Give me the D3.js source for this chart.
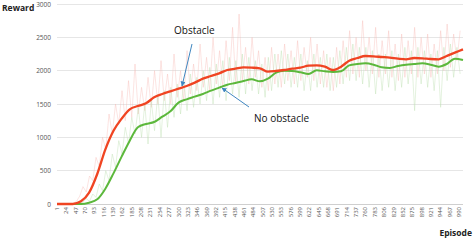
<!DOCTYPE html>
<html><head><meta charset="utf-8">
<script src="https://cdn.jsdelivr.net/npm/d3@7"></script>
<style>body{margin:0;background:#fff;} svg{display:block;}</style>
</head><body>
<svg id="c" width="474" height="242"></svg>
<script>
// Tick labels (episodes)
const xTickLabels = [1,24,47,70,93,116,139,162,185,208,231,254,277,300,323,346,369,392,415,438,461,484,507,530,553,576,599,622,645,668,691,714,737,760,783,806,829,852,875,898,921,944,967,990];
const yTickLabels = [0,500,1000,1500,2000,2500,3000];

// Smoothed curves
const smoothEpisodes = [1,20,40,60,80,100,120,140,160,180,200,220,240,260,280,300,320,340,360,380,400,420,440,460,480,500,520,540,560,580,600,620,640,660,680,700,720,740,760,780,800,820,840,860,880,900,920,940,960,980,1000];
const obstacleSmooth = [0,0,0,40,170,450,820,1100,1280,1420,1470,1510,1600,1650,1690,1730,1770,1820,1880,1920,1960,2010,2030,2050,2045,2035,1985,1995,2010,2030,2045,2075,2080,2060,2010,2060,2150,2190,2220,2215,2205,2195,2180,2170,2190,2185,2175,2170,2220,2270,2320];
const noObstacleSmooth = [0,0,0,0,20,70,230,460,710,950,1150,1200,1230,1310,1390,1520,1570,1610,1650,1700,1745,1790,1815,1845,1870,1840,1880,1970,2000,1995,1975,1950,2005,1990,1980,1990,2080,2100,2110,2090,2050,2040,2070,2090,2100,2110,2090,2060,2100,2180,2160];

// Raw (noisy) rewards, sampled every 8 episodes starting at episode 1
const obstacleRaw = [0,0,0,0,0,10,
40,120,260,180,420,350,700,560,1000,820,1350,1050,1500,1200,1700,1250,1850,1300,2100,1350,1750,1400,1900,1450,2000,1500,2150,1550,1950,1500,2250,1600,2000,1550,2300,1650,2100,1700,2400,1750,2200,1700,2500,1800,2300,1750,2450,1850,2650,1800,2850,1850,2350,1800,2500,1900,2300,1750,2200,1700,2350,1800,2250,1750,2400,1850,2300,1800,2450,1850,2350,1900,2500,1850,2400,1800,2300,1750,2200,1700,2350,1800,2450,1900,2600,1950,2500,1900,2750,2000,2500,1950,2650,1900,2450,1950,2600,1900,2400,1850,2550,1900,2450,1950,2650,1900,2500,1950,2550,1900,2400,1950,2600,2000,2700,2050,2550,2150,2600];
const noObstacleRaw = [0,0,0,0,0,0,0,10,
30,80,40,150,100,300,200,500,350,750,550,950,750,1150,900,1300,1050,1450,1000,1500,900,1550,1100,1650,1000,1700,1150,1750,1300,1800,1350,1850,1400,1950,1450,1900,1500,2000,1550,2050,1500,2100,1600,2150,1550,2200,1650,2150,1600,2250,1650,2200,1700,2150,1650,2100,1600,2200,1700,2250,1750,2300,1800,2250,1750,2200,1750,2250,1700,2150,1700,2250,1750,2200,1750,2250,1700,2200,1750,2300,1800,2350,1850,2400,1850,2350,1800,2350,1750,2300,1650,2250,1700,2250,1750,2300,1700,2250,1750,2350,1800,2300,1400,2350,1800,2300,1750,2250,1700,2300,1450,2350,1850,2400,1900,2350,1950];
const rawStep = 8;

const svg = d3.select('#c');
const x = d3.scaleLinear().domain([1,1000]).range([57,463]);
const y = d3.scaleLinear().domain([0,3000]).range([204,4]);

// grid
svg.append('g').selectAll('line').data(yTickLabels).join('line')
  .attr('x1',57).attr('x2',463).attr('y1',d=>y(d)).attr('y2',d=>y(d))
  .attr('stroke',d=>d===0?'#cfcfcf':'#e6e6e6').attr('stroke-width',1).attr('shape-rendering','crispEdges');

// y labels
svg.append('g').selectAll('text').data(yTickLabels).join('text')
  .attr('x',51).attr('y',d=>y(d)+2.5).attr('text-anchor','end')
  .attr('font-family','Open Sans, sans-serif').attr('font-size',6.5).attr('fill','#555')
  .text(d=>d);

// x labels
svg.append('g').selectAll('text').data(xTickLabels).join('text')
  .attr('transform',d=>`translate(${x(d)+2},207) rotate(-90)`)
  .attr('text-anchor','end')
  .attr('font-family','Open Sans, sans-serif').attr('font-size',6).attr('fill','#555')
  .text(d=>d);

const line = d3.line().x(d=>x(d[0])).y(d=>y(d[1]));
const rawPts = arr => arr.map((v,i)=>[1+i*rawStep, v]);

svg.append('path').attr('d',line(rawPts(obstacleRaw))).attr('fill','none')
  .attr('stroke','#f7b9b4').attr('stroke-opacity',0.55).attr('stroke-width',0.7);
svg.append('path').attr('d',line(rawPts(noObstacleRaw))).attr('fill','none')
  .attr('stroke','#bfe0b2').attr('stroke-opacity',0.6).attr('stroke-width',0.7);

const smoothLine = d3.line().curve(d3.curveMonotoneX).x(d=>x(d[0])).y(d=>y(d[1]));
svg.append('path').attr('d',smoothLine(smoothEpisodes.map((e,i)=>[e,noObstacleSmooth[i]])))
  .attr('fill','none').attr('stroke','#5cb83c').attr('stroke-width',2);
svg.append('path').attr('d',smoothLine(smoothEpisodes.map((e,i)=>[e,obstacleSmooth[i]])))
  .attr('fill','none').attr('stroke','#f04422').attr('stroke-width',2.3);

// arrows
const defs = svg.append('defs');
defs.append('marker').attr('id','ah').attr('viewBox','0 0 10 10').attr('refX',9).attr('refY',5)
  .attr('markerWidth',5).attr('markerHeight',5).attr('orient','auto')
  .append('path').attr('d','M0,0 L10,5 L0,10 z').attr('fill','#3f86c0');
svg.append('line').attr('x1',192).attr('y1',44).attr('x2',182).attr('y2',86)
  .attr('stroke','#3f86c0').attr('stroke-width',1).attr('marker-end','url(#ah)');
svg.append('line').attr('x1',249).attr('y1',107).attr('x2',222).attr('y2',88)
  .attr('stroke','#3f86c0').attr('stroke-width',1).attr('marker-end','url(#ah)');

svg.append('text').attr('x',174).attr('y',34).attr('font-family','Open Sans, sans-serif')
  .attr('font-size',10).attr('fill','#111').text('Obstacle');
svg.append('text').attr('x',254).attr('y',122).attr('font-family','Open Sans, sans-serif')
  .attr('font-size',10).attr('fill','#111').text('No obstacle');

svg.append('text').attr('x',2).attr('y',11).attr('font-family','Open Sans, sans-serif')
  .attr('font-weight','bold').attr('font-size',8.5).attr('fill','#222').text('Reward');
svg.append('text').attr('x',472).attr('y',236).attr('text-anchor','end').attr('font-family','Open Sans, sans-serif')
  .attr('font-weight','bold').attr('font-size',8.5).attr('fill','#222').text('Episode');
</script>
</body></html>
